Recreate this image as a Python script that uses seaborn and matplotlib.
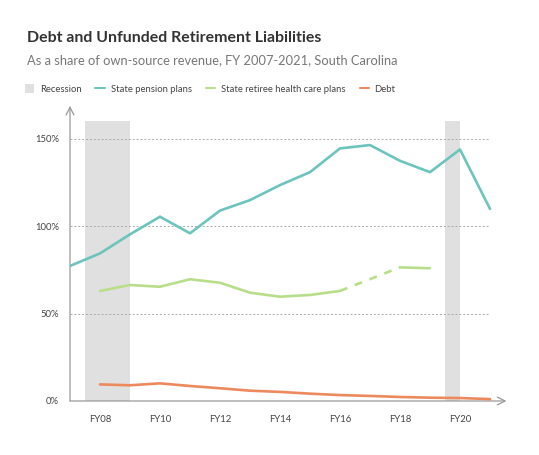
import numpy as np
import pandas as pd
import matplotlib
matplotlib.use("Agg")
import matplotlib.pyplot as plt
import seaborn as sns
from matplotlib.lines import Line2D
from matplotlib.patches import Patch

years = list(range(2007, 2022))
pension = [77.3, 84.5, 95.4, 105.5, 96.0, 109.0, 115.0, 123.6, 131.0, 144.6, 146.5, 137.5, 131.0, 144.0, 110.0]
health = [np.nan, 63.0, 66.4, 65.4, 69.7, 67.7, 62.0, 59.7, 60.7, 63.0, np.nan, 76.5, 76.0, np.nan, np.nan]
health_gap_years = [2016, 2018]
health_gap_vals = [63.0, 76.5]
debt = [np.nan, 9.5, 9.0, 10.1, 8.6, 7.3, 5.9, 5.2, 4.2, 3.4, 2.9, 2.3, 1.9, 1.7, 1.1]
recessions = [(2007.5, 2009.0), (2019.5, 2020.0)]
recession_top = 160
yticks = [0, 50, 100, 150]
ytick_labels = ["0%", "50%", "100%", "150%"]
xticks = [2008, 2010, 2012, 2014, 2016, 2018, 2020]
xtick_labels = ["FY08", "FY10", "FY12", "FY14", "FY16", "FY18", "FY20"]

c_pension = "#6cc4bd"
c_health = "#b8de8a"
c_debt = "#ec8a5e"
c_rec = "#e0e0e0"

sns.set_theme(style="white")
plt.rcParams['font.family'] = ['Lato', 'DejaVu Sans']

df = pd.DataFrame({"year": years, "pension": pension, "health": health, "debt": debt})

fig = plt.figure(figsize=(5.39, 4.55), dpi=100)
ax = fig.add_axes([70/539, 54/455, 435/539, 294/455])

for a, b in recessions:
    ax.fill_between([a, b], 0, recession_top, color=c_rec, lw=0, zorder=1)

for y in yticks[1:]:
    ax.hlines(y, 2007, 2021, colors="#aaaaaa", linestyles=(0, (2, 2)), lw=0.7, zorder=2)
ax.hlines(0, 2007, 2021, colors="#aaaaaa", linestyles=(0, (2, 2)), lw=0.7, zorder=2)

sns.lineplot(data=df, x="year", y="pension", color=c_pension, lw=1.9, ax=ax, zorder=4)
ax.plot(df["year"], df["health"], color=c_health, lw=1.9, zorder=4)
ax.plot(health_gap_years, health_gap_vals, color=c_health, lw=1.9, ls=(0, (3, 3)), zorder=4)
ax.plot(df["year"], df["debt"], color=c_debt, lw=1.9, zorder=4)

ax.set_xlim(2007, 2021.5)
ax.set_ylim(0, 168.3)
for s in ax.spines.values():
    s.set_visible(False)

ax.annotate('', xy=(2021.55, 0), xytext=(2007, 0), xycoords='data',
            arrowprops=dict(arrowstyle='->', color='#999999', lw=0.9, shrinkA=0, shrinkB=0,
                            mutation_scale=14), annotation_clip=False, zorder=3)
ax.annotate('', xy=(2007, 169), xytext=(2007, 0), xycoords='data',
            arrowprops=dict(arrowstyle='->', color='#999999', lw=0.9, shrinkA=0, shrinkB=0,
                            mutation_scale=14), annotation_clip=False, zorder=3)

ax.set_xticks(xticks)
ax.set_xticklabels(xtick_labels, fontsize=6.8, color="#444444")
ax.set_yticks(yticks)
ax.set_yticklabels(ytick_labels, fontsize=6.8, color="#444444")
ax.tick_params(axis='x', length=0, pad=10)
ax.tick_params(axis='y', length=0, pad=8)
ax.set_xlabel("")
ax.set_ylabel("")

fig.text(27/539, 1 - 38/455, "Debt and Unfunded Retirement Liabilities", fontsize=11.4,
         fontweight="bold", color="#333333", va="center", ha="left")
fig.text(27/539, 1 - 60/455, "As a share of own-source revenue, FY 2007-2021, South Carolina",
         fontsize=9.3, color="#777777", va="center", ha="left")

handles = [Patch(facecolor=c_rec, edgecolor='none'),
           Line2D([0], [0], color=c_pension, lw=1.5),
           Line2D([0], [0], color=c_health, lw=1.5),
           Line2D([0], [0], color=c_debt, lw=1.5)]
labels = ["Recession", "State pension plans", "State retiree health care plans", "Debt"]
fig.legend(handles, labels, loc="center left", bbox_to_anchor=(17/539, 1 - 89/455), ncol=4,
           frameon=False, fontsize=6.8, handlelength=1.0, handleheight=1.0, columnspacing=1.5,
           handletextpad=0.6, labelcolor="#444444", borderpad=0.3)

fig.savefig("out.png", dpi=100)
